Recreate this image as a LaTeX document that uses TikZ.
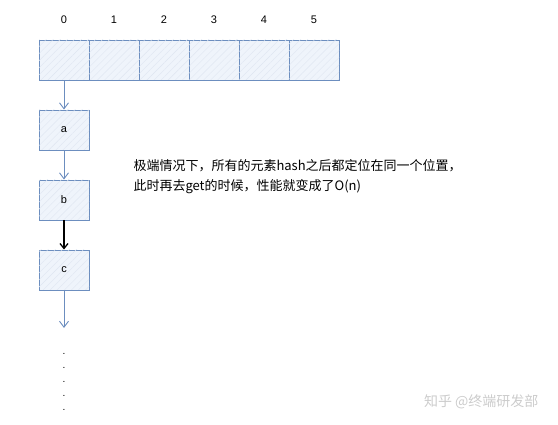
\documentclass[tikz,border=0pt]{standalone}
\usepackage{fontspec}
\setmainfont{Liberation Sans}
\newfontfamily\cjk{Noto Sans CJK SC}
\usetikzlibrary{arrows.meta, positioning, patterns.meta}

\definecolor{cellblue}{HTML}{6C8EBF}
\definecolor{cellfill}{HTML}{EFF4FB}

\tikzset{
  cell/.style={draw=cellblue, line width=0.9pt, fill=cellfill,
    postaction={pattern={Lines[angle=45, distance=5pt, line width=0.4pt]},
      pattern color=cellblue!22},
    minimum width=50pt, minimum height=40pt, inner sep=0pt,
    font=\fontsize{11}{13}\selectfont},
  link/.style={draw=cellblue, line width=0.9pt, -{Straight Barb[length=6pt,width=9pt]}},
  hardlink/.style={draw=black, line width=1.3pt, -{Straight Barb[length=5pt,width=8pt]}}
}

\begin{document}
\begin{tikzpicture}[x=1pt, y=-1pt]
    \useasboundingbox (0,0) rectangle (558,425);
    % the table
    \foreach \i in {0,...,5} {
        \node[cell] (slot\i) at (64+50*\i,60) {};
        \node[font=\fontsize{11}{13}\selectfont] (idx\i) at (64+50*\i,20) {\i};
    }
    % the chain in slot 0
    \node[cell] (a) at (64,130) {a};
    \node[cell] (b) at (64,200) {b};
    \node[cell] (c) at (64,270) {c};
    \coordinate (tail) at (64,328);
    \draw[link] (slot0) -- (a);
    \draw[link] (a) -- (b);
    \draw[hardlink] (b) -- (c);
    \draw[link] (c) -- (tail);
    \foreach \k in {0,...,4}
        \node[inner sep=0pt] (dot\k) at (64,354+14*\k) {.};
    % the note
    \node[anchor=west, align=left, font=\cjk\fontsize{13}{20}\selectfont] (note) at (130,177)
        {极端情况下，所有的元素hash之后都定位在同一个位置，\\此时再去get的时候，性能就变成了O(n)};
    \node[anchor=east, text=black!20, font=\cjk\fontsize{14}{16}\selectfont] (mark) at (542,402)
        {知乎 @终端研发部};
\end{tikzpicture}
\end{document}
